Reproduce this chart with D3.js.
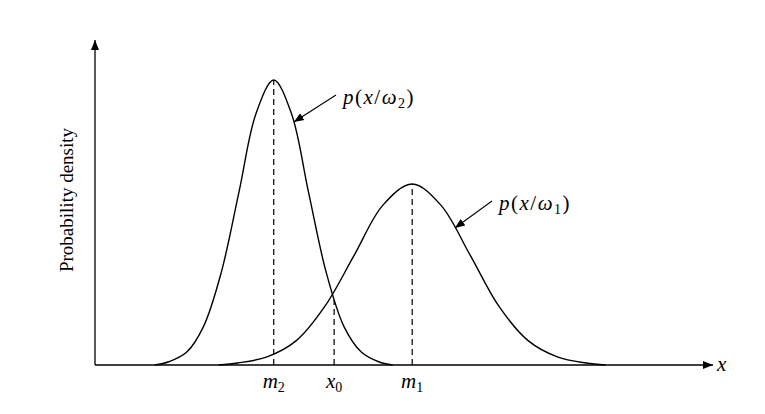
<!DOCTYPE html>
<html>
<head>
<meta charset="utf-8">
<script src="https://cdn.jsdelivr.net/npm/d3@7"></script>
<style>
body { margin: 0; background: #fff; }
text { font-family: "Liberation Serif", "DejaVu Serif", serif; }
</style>
</head>
<body>
<script>
// curve samples (x in axis units 0..10, y in density units 0..1)
var curve2X = [0.98, 1.21, 1.50, 1.78, 2.07, 2.36, 2.64, 2.93, 3.22, 3.50, 3.79, 4.08, 4.37, 4.65, 4.88];
var curve2Y = [0, 0.010, 0.039, 0.119, 0.285, 0.532, 0.774, 0.877, 0.774, 0.532, 0.285, 0.119, 0.039, 0.010, 0];
var curve1X = [2.03, 2.34, 2.82, 3.30, 3.77, 4.25, 4.72, 5.20, 5.67, 6.15, 6.62, 7.10, 7.58, 8.05, 8.37];
var curve1Y = [0, 0.006, 0.025, 0.075, 0.181, 0.338, 0.492, 0.557, 0.492, 0.338, 0.181, 0.075, 0.025, 0.006, 0];
var markNames = ["m2", "x0", "m1"];
var markX = [2.93, 3.92, 5.20];
var markTop = [0.877, 0.20, 0.557];

var width = 765, height = 414;
var svg = d3.select("body").append("svg").attr("width", width).attr("height", height);

var x = d3.scaleLinear().domain([0, 10]).range([95, 705]);
var y = d3.scaleLinear().domain([0, 1]).range([365, 40]);

var defs = svg.append("defs");
defs.append("marker").attr("id", "arr").attr("viewBox", "0 0 10 10")
    .attr("refX", 10).attr("refY", 5).attr("markerWidth", 10).attr("markerHeight", 10)
    .attr("markerUnits", "userSpaceOnUse").attr("orient", "auto")
    .append("path").attr("d", "M0,1 L10,5 L0,9 Z").attr("fill", "#000");

// axes
svg.append("line").attr("x1", x(0)).attr("y1", y(0)).attr("x2", x(10) + 8).attr("y2", y(0))
    .attr("stroke", "#000").attr("stroke-width", 1.3).attr("marker-end", "url(#arr)");
svg.append("line").attr("x1", x(0)).attr("y1", y(0)).attr("x2", x(0)).attr("y2", y(1))
    .attr("stroke", "#000").attr("stroke-width", 1.3).attr("marker-end", "url(#arr)");

svg.append("text").attr("x", 717).attr("y", 371).attr("font-size", 21)
    .attr("font-style", "italic").text("x");
svg.append("text").attr("transform", "translate(73,200) rotate(-90)")
    .attr("text-anchor", "middle").attr("font-size", 19).text("Probability density");

var line = d3.line().x(function(d) { return x(d[0]); }).y(function(d) { return y(d[1]); })
    .curve(d3.curveCatmullRom);

[[curve2X, curve2Y], [curve1X, curve1Y]].forEach(function(c) {
    svg.append("path").datum(d3.zip(c[0], c[1])).attr("d", line)
        .attr("fill", "none").attr("stroke", "#000").attr("stroke-width", 1.4);
});

// dashed marks and labels
markX.forEach(function(v, i) {
    svg.append("line").attr("x1", x(v)).attr("x2", x(v)).attr("y1", y(0)).attr("y2", y(markTop[i]))
        .attr("stroke", "#000").attr("stroke-width", 1.2).attr("stroke-dasharray", "6,4");
    var t = svg.append("text").attr("x", x(v)).attr("y", 388).attr("text-anchor", "middle")
        .attr("font-size", 21).attr("font-style", "italic");
    t.append("tspan").text(markNames[i][0]);
    t.append("tspan").attr("font-size", 14).attr("dy", 4).attr("font-style", "normal").text(markNames[i][1]);
});

// curve labels with arrows
function label(tx, ty, ax, ay, sub) {
    svg.append("line").attr("x1", tx - 7).attr("y1", ty - 9).attr("x2", ax).attr("y2", ay)
        .attr("stroke", "#000").attr("stroke-width", 1.1).attr("marker-end", "url(#arr)");
    var t = svg.append("text").attr("x", tx).attr("y", ty).attr("font-size", 21)
        .attr("letter-spacing", 1.5);
    t.append("tspan").attr("font-style", "italic").text("p");
    t.append("tspan").text("(");
    t.append("tspan").attr("font-style", "italic").text("x");
    t.append("tspan").text("/");
    t.append("tspan").attr("font-style", "italic").text("ω");
    t.append("tspan").attr("font-size", 14).attr("dy", 4).text(sub);
    t.append("tspan").attr("dy", -4).text(")");
}
label(343, 104, x(3.26), 122, "2");
label(499, 210, x(5.90), 228, "1");
</script>
</body>
</html>
